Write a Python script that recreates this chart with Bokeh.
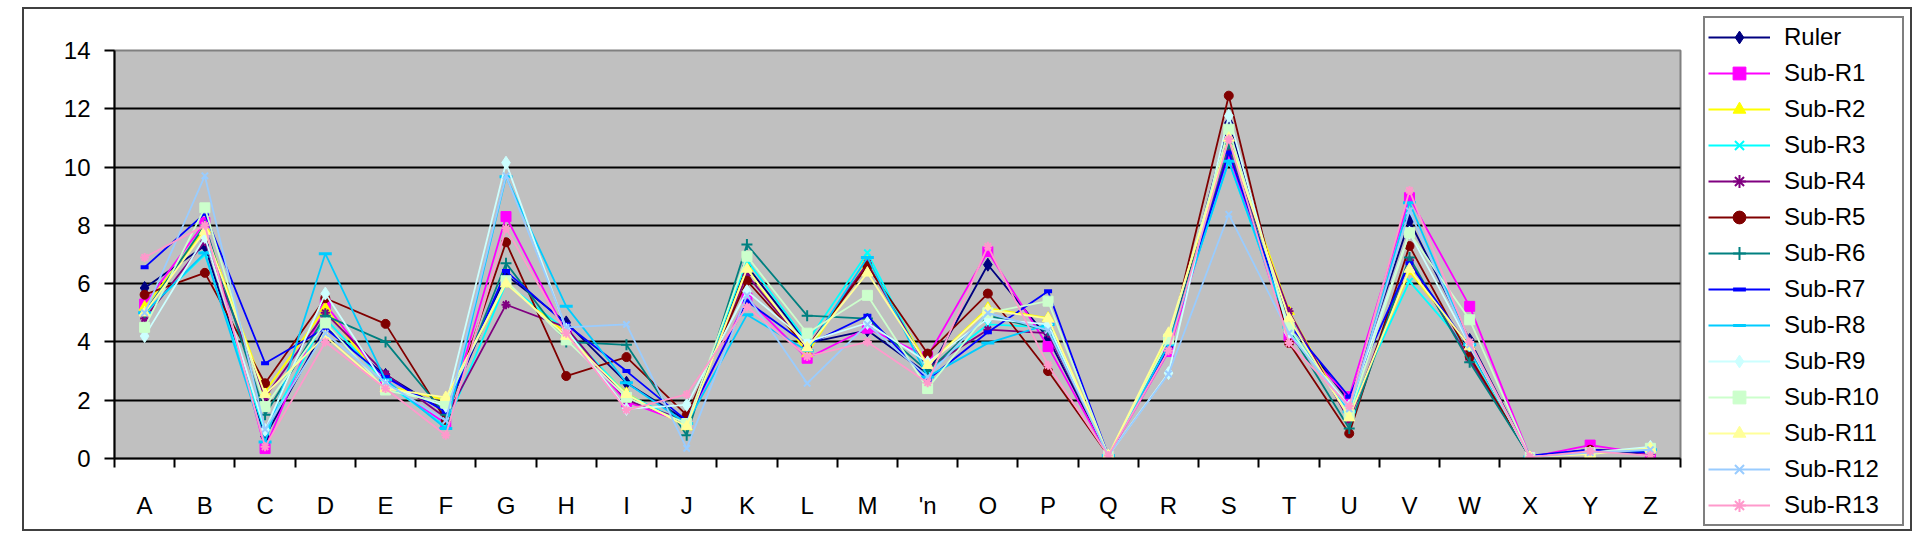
from bokeh.plotting import figure
from bokeh.models import Range1d, FixedTicker, Legend, LegendItem
from bokeh.layouts import row
from bokeh.embed import file_html
from bokeh.resources import INLINE

categories = ["A", "B", "C", "D", "E", "F", "G", "H", "I", "J", "K", "L", "M",
              "'n", "O", "P", "Q", "R", "S", "T", "U", "V", "W", "X", "Y", "Z"]

series_names = ["Ruler", "Sub-R1", "Sub-R2", "Sub-R3", "Sub-R4", "Sub-R5", "Sub-R6",
                "Sub-R7", "Sub-R8", "Sub-R9", "Sub-R10", "Sub-R11", "Sub-R12", "Sub-R13"]

ruler   = [5.85, 7.3, 0.75, 4.5, 2.87, 1.6, 6.3, 4.67, 2.6, 1.3, 6.6, 3.96, 4.4, 2.9, 6.65, 4.13, 0.1, 3.8, 11.5, 4.65, 1.95, 8.15, 4.07, 0.05, 0.3, 0.15]
sub_r1  = [5.3, 8.1, 0.34, 5.3, 2.6, 1.2, 8.3, 4.3, 1.95, 1.2, 5.5, 3.44, 4.47, 3.5, 7.1, 3.84, 0.1, 3.67, 10.44, 4.2, 2.12, 8.95, 5.22, 0.05, 0.46, 0.15]
sub_r2  = [5.2, 7.86, 2.3, 5.16, 2.5, 2.0, 6.0, 4.3, 2.24, 1.09, 6.54, 3.6, 6.77, 3.2, 5.16, 4.82, 0.1, 4.2, 11.0, 5.05, 1.43, 6.43, 3.84, 0.05, 0.2, 0.3]
sub_r3  = [5.0, 7.0, 0.9, 4.8, 2.6, 1.1, 6.0, 4.4, 2.2, 1.2, 6.8, 4.0, 7.06, 3.0, 4.6, 4.5, 0.1, 3.9, 10.2, 4.4, 1.6, 6.08, 3.7, 0.05, 0.2, 0.3]
sub_r4  = [4.8, 7.45, 2.1, 5.0, 2.9, 1.4, 5.28, 4.5, 2.0, 1.3, 6.3, 3.8, 6.7, 3.1, 4.42, 4.3, 0.1, 3.9, 10.6, 5.05, 1.3, 6.8, 3.4, 0.05, 0.25, 0.2]
sub_r5  = [5.62, 6.37, 2.58, 5.5, 4.62, 1.32, 7.42, 2.83, 3.48, 1.49, 6.1, 3.8, 6.6, 3.6, 5.66, 3.0, 0.1, 3.9, 12.45, 3.96, 0.86, 7.29, 3.5, 0.05, 0.3, 0.2]
sub_r6  = [5.0, 8.0, 1.5, 4.9, 4.0, 1.5, 6.7, 4.0, 3.9, 0.8, 7.34, 4.9, 4.8, 3.0, 4.9, 4.4, 0.1, 3.9, 10.8, 4.4, 1.03, 6.9, 3.3, 0.05, 0.2, 0.25]
sub_r7  = [6.56, 8.4, 3.27, 4.47, 2.8, 1.6, 6.43, 4.6, 3.0, 1.3, 5.4, 3.9, 4.9, 2.7, 4.33, 5.74, 0.1, 3.84, 10.5, 4.6, 2.12, 6.7, 3.8, 0.1, 0.3, 0.2]
sub_r8  = [5.0, 7.05, 0.57, 7.03, 2.7, 1.03, 9.67, 5.22, 2.6, 1.2, 4.93, 3.7, 6.9, 2.8, 3.96, 4.6, 0.1, 3.9, 10.2, 4.5, 1.6, 8.78, 3.9, 0.05, 0.2, 0.3]
sub_r9  = [4.2, 7.6, 0.98, 5.66, 2.5, 1.8, 10.15, 4.42, 1.7, 1.84, 5.74, 4.0, 4.65, 3.3, 4.8, 4.6, 0.1, 2.93, 11.76, 4.3, 1.8, 7.75, 3.9, 0.05, 0.2, 0.4]
sub_r10 = [4.5, 8.6, 1.78, 4.65, 2.35, 1.9, 6.1, 4.07, 2.1, 1.2, 6.94, 4.3, 5.6, 2.4, 5.0, 5.4, 0.1, 4.1, 11.3, 4.5, 1.5, 7.75, 4.76, 0.05, 0.2, 0.35]
sub_r11 = [5.0, 7.8, 2.2, 4.2, 2.4, 2.1, 6.0, 4.2, 2.2, 1.1, 6.5, 3.8, 6.37, 3.2, 5.1, 4.8, 0.1, 4.3, 11.0, 4.8, 1.4, 6.5, 3.84, 0.05, 0.15, 0.35]
sub_r12 = [5.0, 9.7, 1.0, 4.3, 2.6, 1.3, 9.7, 4.5, 4.6, 0.35, 5.6, 2.58, 4.6, 2.8, 5.0, 4.4, 0.1, 2.9, 8.38, 4.3, 1.7, 8.5, 3.9, 0.05, 0.2, 0.3]
sub_r13 = [6.9, 8.0, 0.4, 4.0, 2.4, 0.8, 7.9, 4.3, 1.66, 2.2, 5.2, 3.5, 4.0, 2.6, 7.28, 3.2, 0.1, 3.7, 10.96, 3.96, 1.8, 9.2, 4.0, 0.05, 0.25, 0.1]

y_ticks = [0, 2, 4, 6, 8, 10, 12, 14]

series_values = [ruler, sub_r1, sub_r2, sub_r3, sub_r4, sub_r5, sub_r6,
                 sub_r7, sub_r8, sub_r9, sub_r10, sub_r11, sub_r12, sub_r13]

colors = ["#000080", "#FF00FF", "#FFFF00", "#00FFFF", "#800080", "#800000", "#008080",
          "#0000FF", "#00CCFF", "#CCFFFF", "#CCFFCC", "#FFFF99", "#99CCFF", "#FF99CC"]
markers = ["diamond", "square", "triangle", "x", "asterisk", "circle", "cross",
           "dash", "dash", "diamond", "square", "triangle", "x", "asterisk"]
marker_sizes = [13, 10, 11, 9, 9, 9, 11, 8, 13, 13, 10, 11, 9, 9]
marker_lw = [1, 1, 1, 2, 2, 1, 2, 4, 3, 1, 1, 1, 2, 2]

FONT = "Liberation Sans"

n = len(categories)
xs = [i + 0.5 for i in range(n)]

# ---------------- main chart ----------------
p = figure(width=1671, height=520,
           x_range=Range1d(0, n), y_range=Range1d(0, 14),
           output_backend="svg", toolbar_location=None,
           min_border_left=90, min_border_right=15,
           min_border_top=41, min_border_bottom=71)
p.frame_align = False

p.background_fill_color = "#C0C0C0"
p.border_fill_color = "white"
p.outline_line_color = "#808080"
p.outline_line_width = 2

p.yaxis.ticker = FixedTicker(ticks=y_ticks, minor_ticks=[])
p.yaxis.axis_line_color = "black"
p.yaxis.axis_line_width = 2
p.yaxis.major_tick_out = 10
p.yaxis.major_tick_in = 0
p.yaxis.major_tick_line_width = 2
p.yaxis.minor_tick_line_color = None
p.yaxis.major_label_text_font = FONT
p.yaxis.major_label_text_font_size = "24px"
p.yaxis.major_label_text_color = "black"
p.yaxis.major_label_standoff = 14

p.xaxis.ticker = FixedTicker(ticks=xs, minor_ticks=list(range(n + 1)))
p.xaxis.major_label_overrides = {x: c for x, c in zip(xs, categories)}
p.xaxis.axis_line_color = "black"
p.xaxis.axis_line_width = 2
p.xaxis.major_tick_line_color = None
p.xaxis.major_tick_out = 0
p.xaxis.major_tick_in = 0
p.xaxis.minor_tick_line_color = "black"
p.xaxis.minor_tick_line_width = 2
p.xaxis.minor_tick_out = 9
p.xaxis.minor_tick_in = 0
p.xaxis.major_label_text_font = FONT
p.xaxis.major_label_text_font_size = "24px"
p.xaxis.major_label_text_color = "black"
p.xaxis.major_label_standoff = 24

p.xgrid.grid_line_color = None
p.ygrid.ticker = FixedTicker(ticks=y_ticks)
p.ygrid.grid_line_color = "black"
p.ygrid.grid_line_width = 2

for vals, col, mk, ms, mlw in zip(series_values, colors, markers, marker_sizes, marker_lw):
    p.line(xs, vals, line_color=col, line_width=1.8)
    p.scatter(xs, vals, marker=mk, size=ms, fill_color=col,
              line_color=col, line_width=mlw)

# ---------------- legend panel ----------------
# Same series drawn again on a panel whose ranges lie outside the data,
# so only the legend (which needs renderers of its own plot) is visible.
q = figure(width=215, height=520, x_range=Range1d(-20, -10), y_range=Range1d(-20, -10),
           x_axis_type=None, y_axis_type=None,
           output_backend="svg", toolbar_location=None,
           min_border_left=0, min_border_right=0, min_border_top=0, min_border_bottom=0)
q.frame_align = False
q.grid.visible = False
q.outline_line_color = None
q.background_fill_color = "white"
q.border_fill_color = "white"

items = []
for name, vals, col, mk, ms, mlw in zip(series_names, series_values, colors,
                                         markers, marker_sizes, marker_lw):
    ln = q.line(xs, vals, line_color=col, line_width=1.8)
    sc = q.scatter(xs, vals, marker=mk, size=ms, fill_color=col,
                   line_color=col, line_width=mlw)
    items.append(LegendItem(label=name, renderers=[ln, sc]))

legend = Legend(items=items, location=(8, 3), margin=0, padding=3,
                ncols=1, spacing=4, glyph_width=62, glyph_height=32,
                label_height=32, label_width=115, label_standoff=14,
                label_text_font=FONT, label_text_font_size="24px",
                label_text_color="black",
                border_line_color="black", border_line_width=2,
                background_fill_color="white", background_fill_alpha=1.0)
q.add_layout(legend, "center")

page = row(p, q, styles={"border": "2px solid #404040",
                         "margin-left": "22px", "margin-top": "7px"})

open("out.html", "w").write(file_html(page, INLINE))
